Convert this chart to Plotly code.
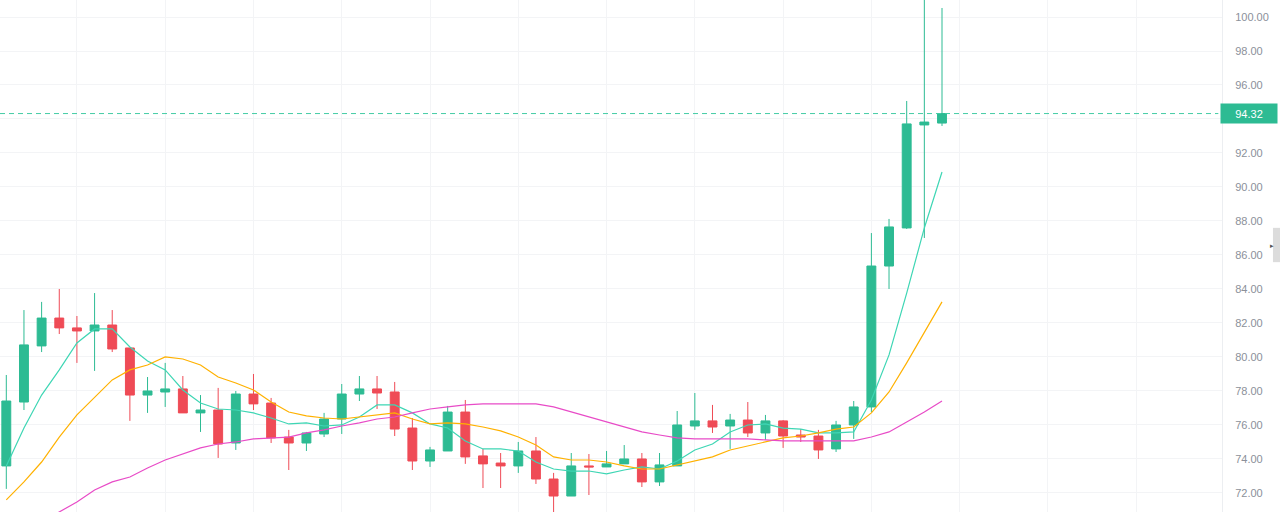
import plotly.graph_objs as go

# candle values, left to right
opens = [73.59, 77.35, 80.65, 82.29, 81.71, 81.53, 81.88, 80.53, 77.76, 77.94,
         78.12, 76.71, 76.88, 74.94, 77.82, 77.29, 75.29, 74.94, 75.47, 76.35,
         77.82, 78.12, 77.94, 75.82, 73.88, 74.47, 76.76, 74.18, 73.76, 73.59,
         74.47, 72.82, 71.82, 73.59, 73.53, 73.71, 74.00, 72.65, 73.59, 75.94,
         76.24, 75.94, 76.29, 75.53, 76.24, 75.41, 75.35, 74.59, 76.00, 77.06,
         85.35, 87.59, 93.65, 93.76]
highs = [78.94, 82.76, 83.24, 84.00, 82.41, 83.76, 82.76, 80.53, 78.82, 79.65,
         78.88, 77.76, 78.18, 78.00, 79.00, 77.59, 75.71, 75.59, 76.71, 78.41,
         78.88, 78.88, 78.53, 76.41, 74.71, 77.12, 77.47, 74.59, 74.35, 75.00,
         75.29, 73.18, 74.35, 74.29, 74.47, 74.82, 74.35, 74.35, 76.82, 77.88,
         77.18, 76.65, 77.35, 76.59, 76.29, 75.76, 75.71, 76.24, 77.41, 87.29,
         88.12, 95.06, 102.50, 100.53]
lows = [72.24, 76.88, 80.29, 81.35, 79.65, 79.18, 80.29, 76.24, 76.71, 77.06,
        76.71, 75.59, 74.06, 74.53, 76.88, 74.94, 73.35, 74.47, 75.29, 75.47,
        77.41, 76.94, 75.35, 73.35, 73.53, 74.47, 73.71, 72.29, 72.29, 73.18,
        72.53, 70.70, 71.82, 71.88, 73.53, 73.71, 72.35, 72.41, 73.59, 75.71,
        75.53, 74.59, 75.29, 75.12, 74.65, 75.00, 74.00, 74.41, 75.18, 76.76,
        84.00, 87.53, 87.00, 93.59]
closes = [77.41, 80.71, 82.29, 81.71, 81.53, 81.88, 80.47, 77.76, 78.00, 78.12,
          76.71, 76.88, 74.88, 77.82, 77.24, 75.24, 74.94, 75.53, 76.35, 77.82,
          78.12, 77.88, 75.76, 73.88, 74.53, 76.76, 74.12, 73.71, 73.59, 74.47,
          72.82, 71.82, 73.59, 73.53, 73.71, 74.00, 72.65, 73.65, 76.00, 76.24,
          75.88, 76.29, 75.53, 76.24, 75.35, 75.29, 74.53, 76.00, 77.06, 85.35,
          87.65, 93.71, 93.82, 94.32]

# moving averages
ma5 = [73.59, 75.82, 77.76, 79.24, 80.82, 81.65, 81.65, 80.59, 79.76, 79.24,
       78.06, 77.29, 76.94, 76.88, 76.71, 76.41, 76.06, 76.12, 75.94, 76.00,
       76.47, 77.18, 77.18, 76.71, 76.06, 75.82, 75.06, 74.59, 74.59, 74.47,
       73.82, 73.41, 73.29, 73.29, 73.12, 73.35, 73.53, 73.41, 73.88, 74.53,
       74.88, 75.59, 76.00, 76.06, 75.82, 75.76, 75.53, 75.53, 75.59, 77.47,
       80.12, 83.76, 87.59, 90.88]
ma10 = [71.59, 72.65, 73.82, 75.29, 76.59, 77.65, 78.65, 79.24, 79.53, 80.00,
        79.88, 79.53, 78.82, 78.47, 78.06, 77.35, 76.76, 76.53, 76.41, 76.35,
        76.47, 76.59, 76.71, 76.35, 76.06, 76.12, 76.06, 75.88, 75.65, 75.29,
        74.82, 74.12, 73.94, 73.94, 73.82, 73.59, 73.41, 73.41, 73.65, 73.88,
        74.12, 74.53, 74.76, 75.00, 75.24, 75.35, 75.53, 75.76, 75.88, 76.71,
        77.94, 79.65, 81.47, 83.24]
ma30 = [69.12, 69.71, 70.29, 70.88, 71.47, 72.18, 72.65, 72.94, 73.47, 73.94,
        74.29, 74.65, 74.88, 75.00, 75.18, 75.24, 75.29, 75.53, 75.71, 75.94,
        76.12, 76.35, 76.47, 76.71, 76.94, 77.06, 77.18, 77.24, 77.24, 77.24,
        77.24, 77.06, 76.76, 76.47, 76.18, 75.88, 75.59, 75.41, 75.24, 75.18,
        75.18, 75.18, 75.18, 75.12, 75.06, 75.06, 75.06, 75.06, 75.06, 75.29,
        75.59, 76.18, 76.76, 77.41]

last_price = 94.32

up = '#2dbb93'
down = '#ef4b56'
idx = list(range(len(closes)))

candles = go.Candlestick(
    x=idx, open=opens, high=highs, low=lows, close=closes,
    increasing=dict(line=dict(color=up, width=1), fillcolor=up),
    decreasing=dict(line=dict(color=down, width=1), fillcolor=down),
    hoverinfo='skip', showlegend=False,
)
lines = [
    go.Scatter(x=idx, y=ma5, mode='lines', line=dict(color='#3ed6b4', width=1.2)),
    go.Scatter(x=idx, y=ma10, mode='lines', line=dict(color='#ffb100', width=1.2)),
    go.Scatter(x=idx, y=ma30, mode='lines', line=dict(color='#e84bc7', width=1.2)),
]

fig = go.Figure([candles] + lines)
fig.update_layout(
    width=1280, height=512,
    margin=dict(l=0, r=58, t=0, b=0),
    paper_bgcolor='white', plot_bgcolor='white',
    showlegend=False, hovermode=False, boxgap=0.28,
    font=dict(family='Liberation Sans, Arial, sans-serif', size=11, color='#8b909a'),
)
fig.update_xaxes(
    range=[-0.357, 68.86], rangeslider=dict(visible=False),
    showticklabels=False, showgrid=True, gridcolor='#f3f4f6',
    tick0=4, dtick=5, zeroline=False,
)
fig.update_yaxes(
    side='right', range=[70.88, 101.0], dtick=2, tickformat='.2f',
    showgrid=True, gridcolor='#f3f4f6', zeroline=False,
    showline=True, linecolor='#eceef1', linewidth=1,
    ticks='outside', ticklen=10, tickcolor='rgba(0,0,0,0)',
)

# last price line and tag
fig.add_shape(type='line', xref='paper', yref='y', x0=0, x1=0.997,
              y0=last_price, y1=last_price,
              line=dict(color='#45cca5', width=1, dash='5px,4px'))
fig.add_annotation(xref='paper', yref='y', x=1, y=last_price,
                   xanchor='left', yanchor='middle', xshift=-2,
                   text='%.2f' % last_price, showarrow=False,
                   bgcolor=up, borderpad=3, width=50, height=13, align='center',
                   font=dict(color='white', size=11))

# small handle at the right edge
fig.add_shape(type='rect', xref='paper', yref='paper',
              x0=1.0417, x1=1.05, y0=0.488, y1=0.555,
              fillcolor='#dcdcdc', line=dict(width=0), layer='above')
fig.add_annotation(xref='paper', yref='paper', x=1.0445, y=0.521,
                   text='▸', showarrow=False, font=dict(size=7, color='#555555'))

# drop the page margin so the chart sits at the window's corner
fig.write_html('out.html', config={'displayModeBar': False},
               post_script="document.body.style.margin='0';")
